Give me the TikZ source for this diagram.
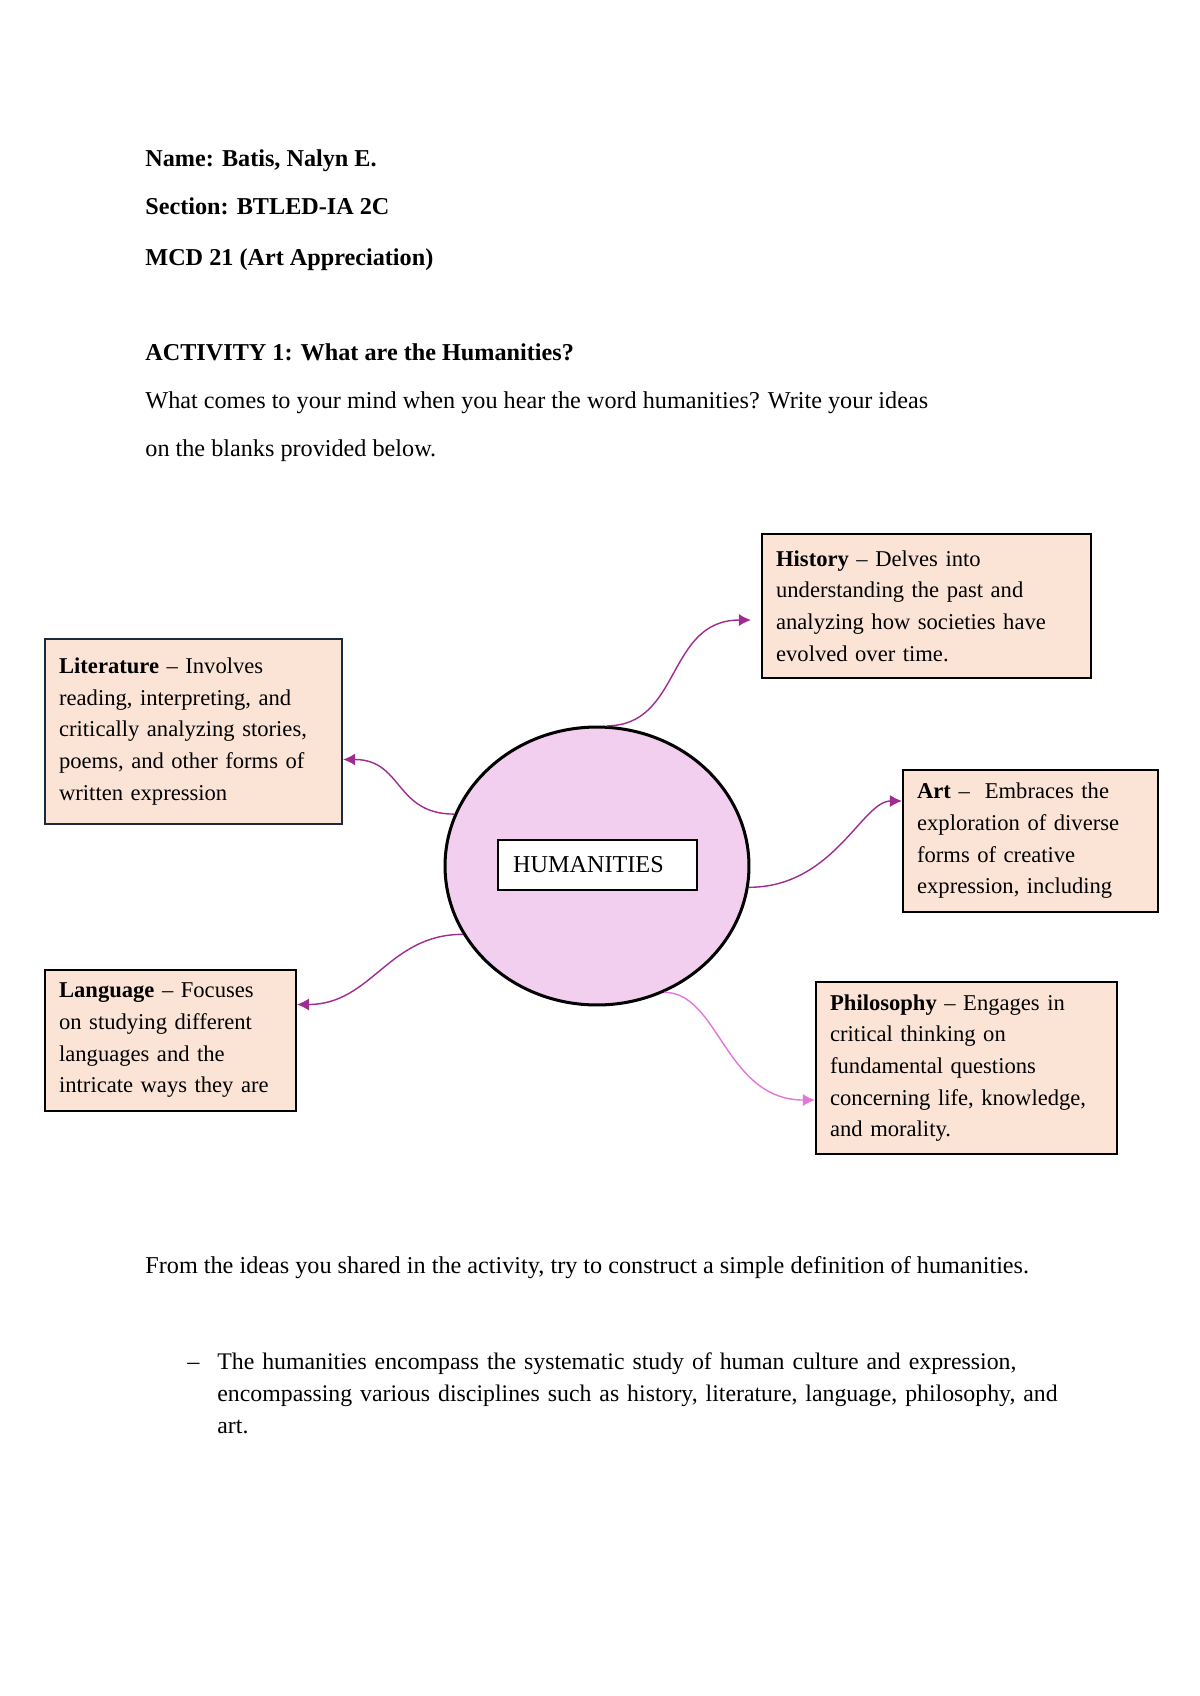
\documentclass[tikz,border=0pt]{standalone}
\usepackage{fontspec}
\setmainfont{Liberation Serif}
\usetikzlibrary{arrows.meta, shapes.geometric, calc}
\definecolor{boxPeach}{RGB}{251, 228, 214}
\definecolor{hubPink}{RGB}{242, 206, 239}
\definecolor{linkPurple}{RGB}{160, 43, 147}
\definecolor{linkOrchid}{RGB}{226, 118, 218}
\definecolor{litNavy}{RGB}{28, 42, 62}
\newcommand{\ideaFont}{\hyphenpenalty=10000\relax\fontsize{11.2}{15.7}\selectfont}
\tikzset{
    pageText/.style={anchor=base west, inner sep=0pt, font=\fontsize{12}{15.9}\selectfont},
    ideaBox/.style={draw=black, line width=1pt, fill=boxPeach, anchor=north west,
        align=left, inner xsep=7pt, inner ysep=0pt, font=\ideaFont},
    hubCircle/.style={ellipse, draw=black, line width=1.5pt, fill=hubPink, inner sep=0pt},
    link/.style={draw=linkPurple, line width=0.7pt, -{Latex[length=6pt, width=6pt]}},
}

\begin{document}
\begin{tikzpicture}[x=0.4958pt, y=-0.4958pt]
    \useasboundingbox (0,0) rectangle (1200,1696);

    % Heading
    \node[pageText] (name) at (145,167) {\textbf{Name: Batis, Nalyn E.}};
    \node[pageText] (section) at (145,215) {\textbf{Section: BTLED-IA 2C}};
    \node[pageText] (course) at (145,265) {\textbf{MCD 21 (Art Appreciation)}};

    % Activity
    \node[pageText] (activity) at (145,360) {\textbf{ACTIVITY 1: What are the Humanities?}};
    \node[pageText] (prompt) at (145,408) {What comes to your mind when you hear the word humanities? Write your ideas};
    \node[pageText] (promptB) at (145,456) {on the blanks provided below.};

    % Hub
    \node[hubCircle, minimum width=150.7pt, minimum height=137.8pt] (hub) at (597,866) {};
    \node[draw=black, line width=1pt, fill=white, anchor=north west, align=left,
          inner xsep=7.5pt, inner ysep=0pt, text width=83.7pt, minimum height=24.8pt,
          font=\fontsize{12}{14}\selectfont] (hubLabel) at (497,839) {HUMANITIES};

    % Idea boxes
    \node[ideaBox, text width=149pt, minimum height=71.4pt] (hist) at (761,533)
        {\textbf{History} – Delves into\\understanding the past and\\analyzing how societies have\\evolved over time.};
    \node[ideaBox, draw=litNavy, text width=133.3pt, minimum height=91.7pt] (lit) at (44,638)
        {\textbf{Literature} – Involves\\reading, interpreting, and\\critically analyzing stories,\\poems, and other forms of\\written expression};
    \node[ideaBox, text width=112.4pt, minimum height=70.4pt] (art) at (902,769)
        {\textbf{Art} –~ Embraces the\\exploration of diverse\\forms of creative\\expression, including};
    \node[ideaBox, text width=110.4pt, minimum height=69.9pt] (lang) at (44,969)
        {\textbf{Language} – Focuses\\on studying different\\languages and the\\intricate ways they are};
    \node[ideaBox, text width=135.2pt, minimum height=85.3pt] (phil) at (815,981)
        {\textbf{Philosophy} – Engages in\\critical thinking on\\fundamental questions\\concerning life, knowledge,\\and morality.};

    % Links
    \draw[link] (hub.86) .. controls +(75,0) and +(-85,0) .. ($(hist.west)+(-10,14)$);
    \draw[link] (hub.160) .. controls +(-60,0) and +(60,0) .. ($(lit.east)+(0,28)$);
    \draw[link] (hub.-8) .. controls +(85,0) and +(-40,0) .. ($(art.west)+(0,-40)$);
    \draw[link] (hub.207) .. controls +(-75,0) and +(75,0) .. ($(lang.east)+(0,-36)$);
    \draw[link, draw=linkOrchid] (hub.-62) .. controls +(55,0) and +(-90,0) .. ($(phil.west)+(0,32)$);

    % Definition
    \node[pageText] (define) at (145,1273) {From the ideas you shared in the activity, try to construct a simple definition of humanities.};
    \node[pageText] (dash) at (187,1369) {–};
    \node[pageText, align=left, text width=425pt, font=\fontsize{11.8}{15.9}\selectfont] (answer) at (217,1369)
        {The humanities encompass the systematic study of human culture and expression,\\encompassing various disciplines such as history, literature, language, philosophy, and\\art.};

\end{tikzpicture}
\end{document}
